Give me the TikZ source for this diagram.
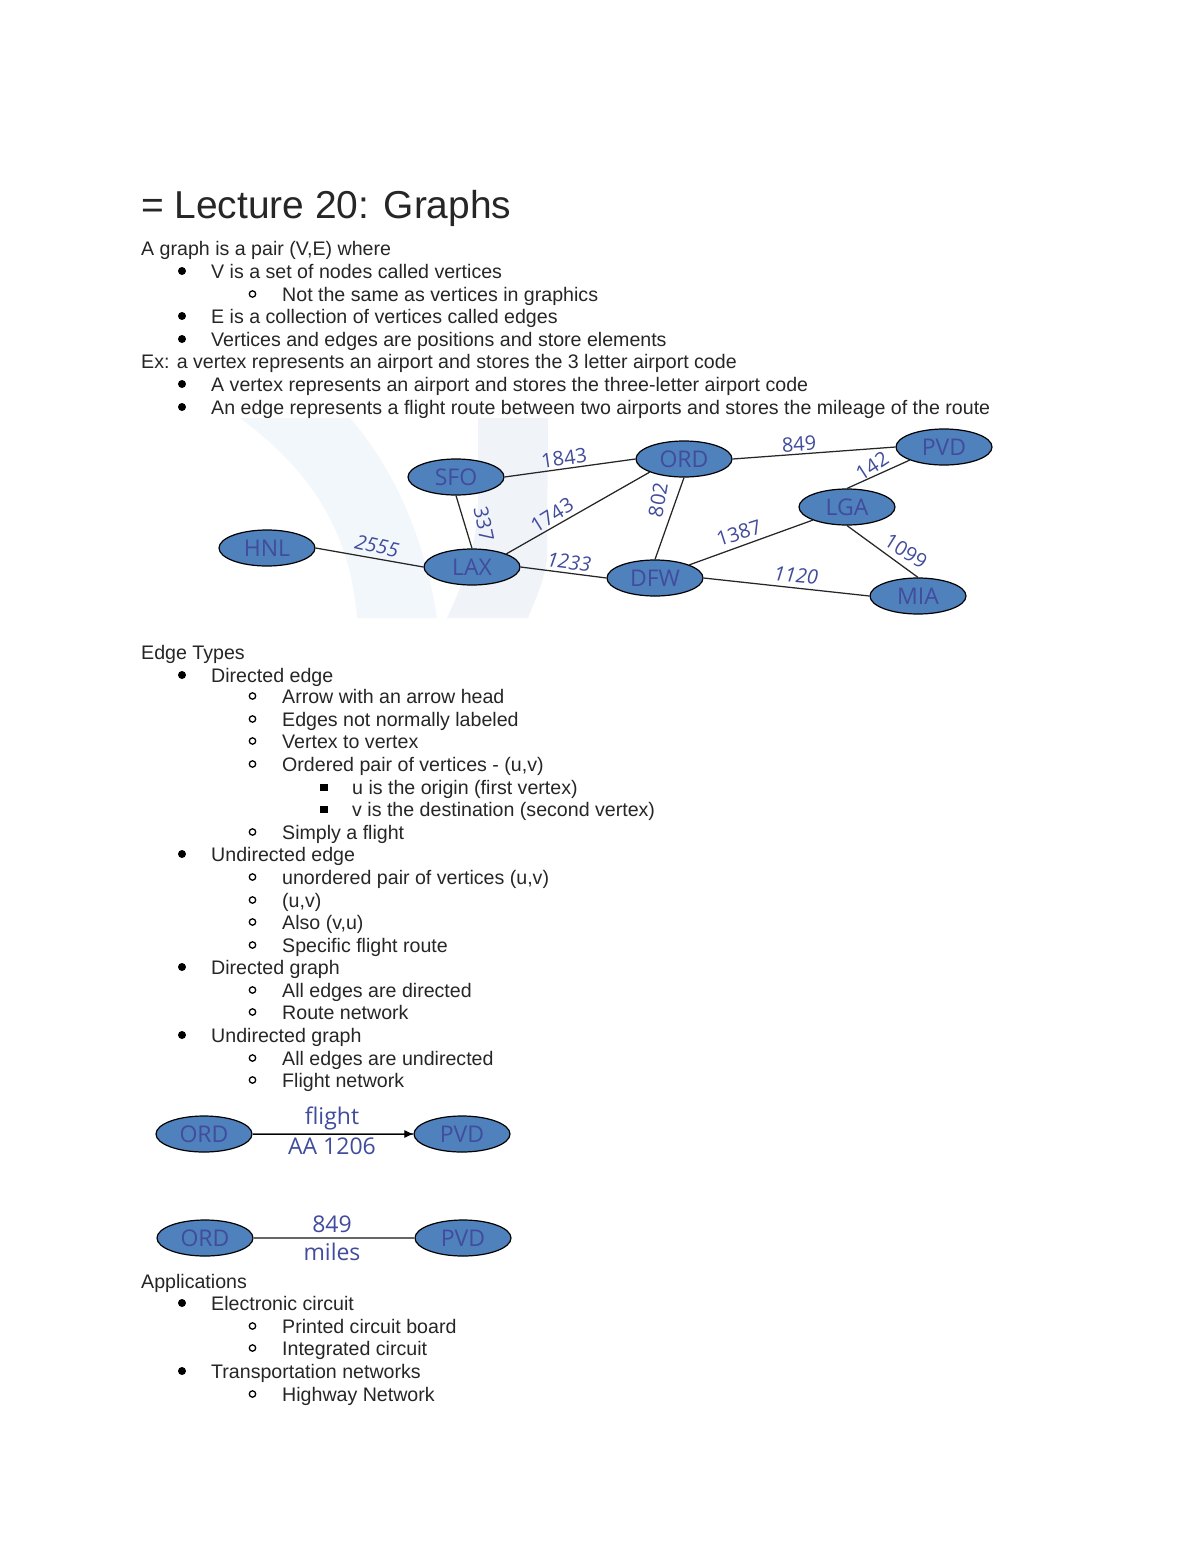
\documentclass[tikz,border=0pt]{standalone}
\usepackage{fontspec}
\setmainfont{Liberation Sans}
\newfontfamily\labelfont{Open Sans}
\usetikzlibrary{shapes.geometric,arrows.meta}
\definecolor{nodeblue}{HTML}{4F81BD}
\definecolor{labelblue}{HTML}{414C9C}
\definecolor{wmA}{HTML}{F2F7FC}
\definecolor{wmB}{HTML}{F0F4F8}
\tikzset{
 apt/.style={ellipse,draw=black,line width=1.2pt,fill=nodeblue,minimum width=96pt,minimum height=36pt,inner sep=0pt,text=labelblue,text depth=0pt,text height=17pt,font=\labelfont\fontsize{23}{23}\selectfont},
 edge/.style={draw=black!85,line width=1.25pt},
 thick edge/.style={draw=black!60,line width=2.2pt},
 wt/.style={text=labelblue,inner sep=0pt,font=\labelfont\fontsize{20}{20}\selectfont},
 wtit/.style={wt,font=\labelfont\itshape\fontsize{20}{20}\selectfont},
 big/.style={text=labelblue,inner sep=0pt,font=\labelfont\fontsize{23}{23}\selectfont},
 line/.style={anchor=base west,inner sep=0pt,text=black!85,font=\fontsize{19.6}{22}\selectfont},
}
\newcount\tn
\newcommand{\Txt}[3]{\global\advance\tn by 1\relax\node[line] (t\the\tn) at (#1,#2+7) {#3};}
\newcommand{\Ba}[2]{\fill[black] (182,#1) circle (4);\Txt{211}{#1}{#2}}
\newcommand{\Bb}[2]{\draw[black,line width=1.3pt] (252.5,#1) circle (3.2);\Txt{282}{#1}{#2}}
\newcommand{\Bc}[2]{\fill[black] (319.5,#1-3.5) rectangle (327.5,#1+3.5);\Txt{352}{#1}{#2}}
\begin{document}
\begin{tikzpicture}[x=1pt,y=-1pt]
\useasboundingbox (0,0) rectangle (1200,1553);
\fill[white] (0,0) rectangle (1200,1553);
% watermark
\fill[wmA] (240,418) -- (350,418) .. controls (395,470) and (425,540) .. (437,618) -- (357,618) .. controls (350,530) and (310,470) .. cycle;
\fill[wmB] (478,418) -- (548,418) -- (547,560) .. controls (543,585) and (535,600) .. (528,618) -- (447,618) .. controls (470,570) and (478,530) .. (478,500) -- cycle;
% title
\node[anchor=base west,inner sep=0pt,text=black!85,font=\fontsize{38.9}{44}\selectfont] (title) at (141,218) {= Lecture 20: Graphs};
% text
\Txt{141}{248}{A graph is a pair (V,E) where}
\Ba{271}{V is a set of nodes called vertices}
\Bb{294}{Not the same as vertices in graphics}
\Ba{316}{E is a collection of vertices called edges}
\Ba{339}{Vertices and edges are positions and store elements}
\Txt{141}{361}{Ex: a vertex represents an airport and stores the 3 letter airport code}
\Ba{384}{A vertex represents an airport and stores the three-letter airport code}
\Ba{407}{An edge represents a flight route between two airports and stores the mileage of the route}
\Txt{141}{652}{Edge Types}
\Ba{675}{Directed edge}
\Bb{696}{Arrow with an arrow head}
\Bb{719}{Edges not normally labeled}
\Bb{741}{Vertex to vertex}
\Bb{764}{Ordered pair of vertices - (u,v)}
\Bc{787}{u is the origin (first vertex)}
\Bc{809}{v is the destination (second vertex)}
\Bb{832}{Simply a flight}
\Ba{854}{Undirected edge}
\Bb{877}{unordered pair of vertices (u,v)}
\Bb{900}{(u,v)}
\Bb{922}{Also (v,u)}
\Bb{945}{Specific flight route}
\Ba{967}{Directed graph}
\Bb{990}{All edges are directed}
\Bb{1012}{Route network}
\Ba{1035}{Undirected graph}
\Bb{1058}{All edges are undirected}
\Bb{1080}{Flight network}
\Txt{141}{1281}{Applications}
\Ba{1303}{Electronic circuit}
\Bb{1326}{Printed circuit board}
\Bb{1348}{Integrated circuit}
\Ba{1371}{Transportation networks}
\Bb{1394}{Highway Network}
% main graph
\node[apt] (HNL) at (267,548) {HNL};
\node[apt] (SFO) at (456,477) {SFO};
\node[apt] (LAX) at (472,567) {LAX};
\node[apt] (ORD) at (684,459) {ORD};
\node[apt] (DFW) at (655,578) {DFW};
\node[apt] (LGA) at (847,507) {LGA};
\node[apt] (PVD) at (944,447) {PVD};
\node[apt] (MIA) at (918,596) {MIA};
\draw[edge] (HNL.east) -- (LAX.west);
\draw[edge] (SFO.south) -- (LAX.north);
\draw[edge] (SFO.east) -- (ORD.west);
\draw[edge] (LAX.north east) -- (ORD.south west);
\draw[edge] (LAX.east) -- (DFW.west);
\draw[edge] (ORD.south) -- (DFW.north);
\draw[edge] (ORD.east) -- (PVD.west);
\draw[edge] (PVD.south west) -- (LGA.north);
\draw[edge] (DFW.north east) -- (LGA.south west);
\draw[edge] (LGA.south) -- (MIA.north);
\draw[edge] (DFW.east) -- (MIA.west);
\node[wtit,rotate=-13] (w2555) at (377,546) {2555};
\node[wt,rotate=-78] (w337) at (484,524) {337};
\node[wt,rotate=8] (w1843) at (564,458) {1843};
\node[wt,rotate=32] (w1743) at (552,515) {1743};
\node[wtit,rotate=-7] (w1233) at (569,562) {1233};
\node[wt,rotate=80] (w802) at (658,500) {802};
\node[wt,rotate=3] (w849) at (799,444) {849};
\node[wt,rotate=33] (w142) at (872,466) {142};
\node[wt,rotate=18] (w1387) at (739,533) {1387};
\node[wt,rotate=-32] (w1099) at (906,551) {1099};
\node[wtit,rotate=-5] (w1120) at (796,575) {1120};
% directed
\node[apt] (o1) at (204,1134) {ORD};
\node[apt] (p1) at (462,1134) {PVD};
\draw[thick edge] (o1.east) -- (p1.west);
\draw[draw=black,line width=0.8pt,-{Latex[length=9pt,width=8pt]}] (o1.east) -- (p1.west);
\node[big] (fl) at (332,1118) {flight};
\node[big] (aa) at (332,1146) {AA 1206};
% undirected
\node[apt] (o2) at (205,1238) {ORD};
\node[apt] (p2) at (463,1238) {PVD};
\draw[thick edge] (o2.east) -- (p2.west);
\node[big] (n849) at (332,1224) {849};
\node[big] (mi) at (332,1252) {miles};
\end{tikzpicture}
\end{document}
